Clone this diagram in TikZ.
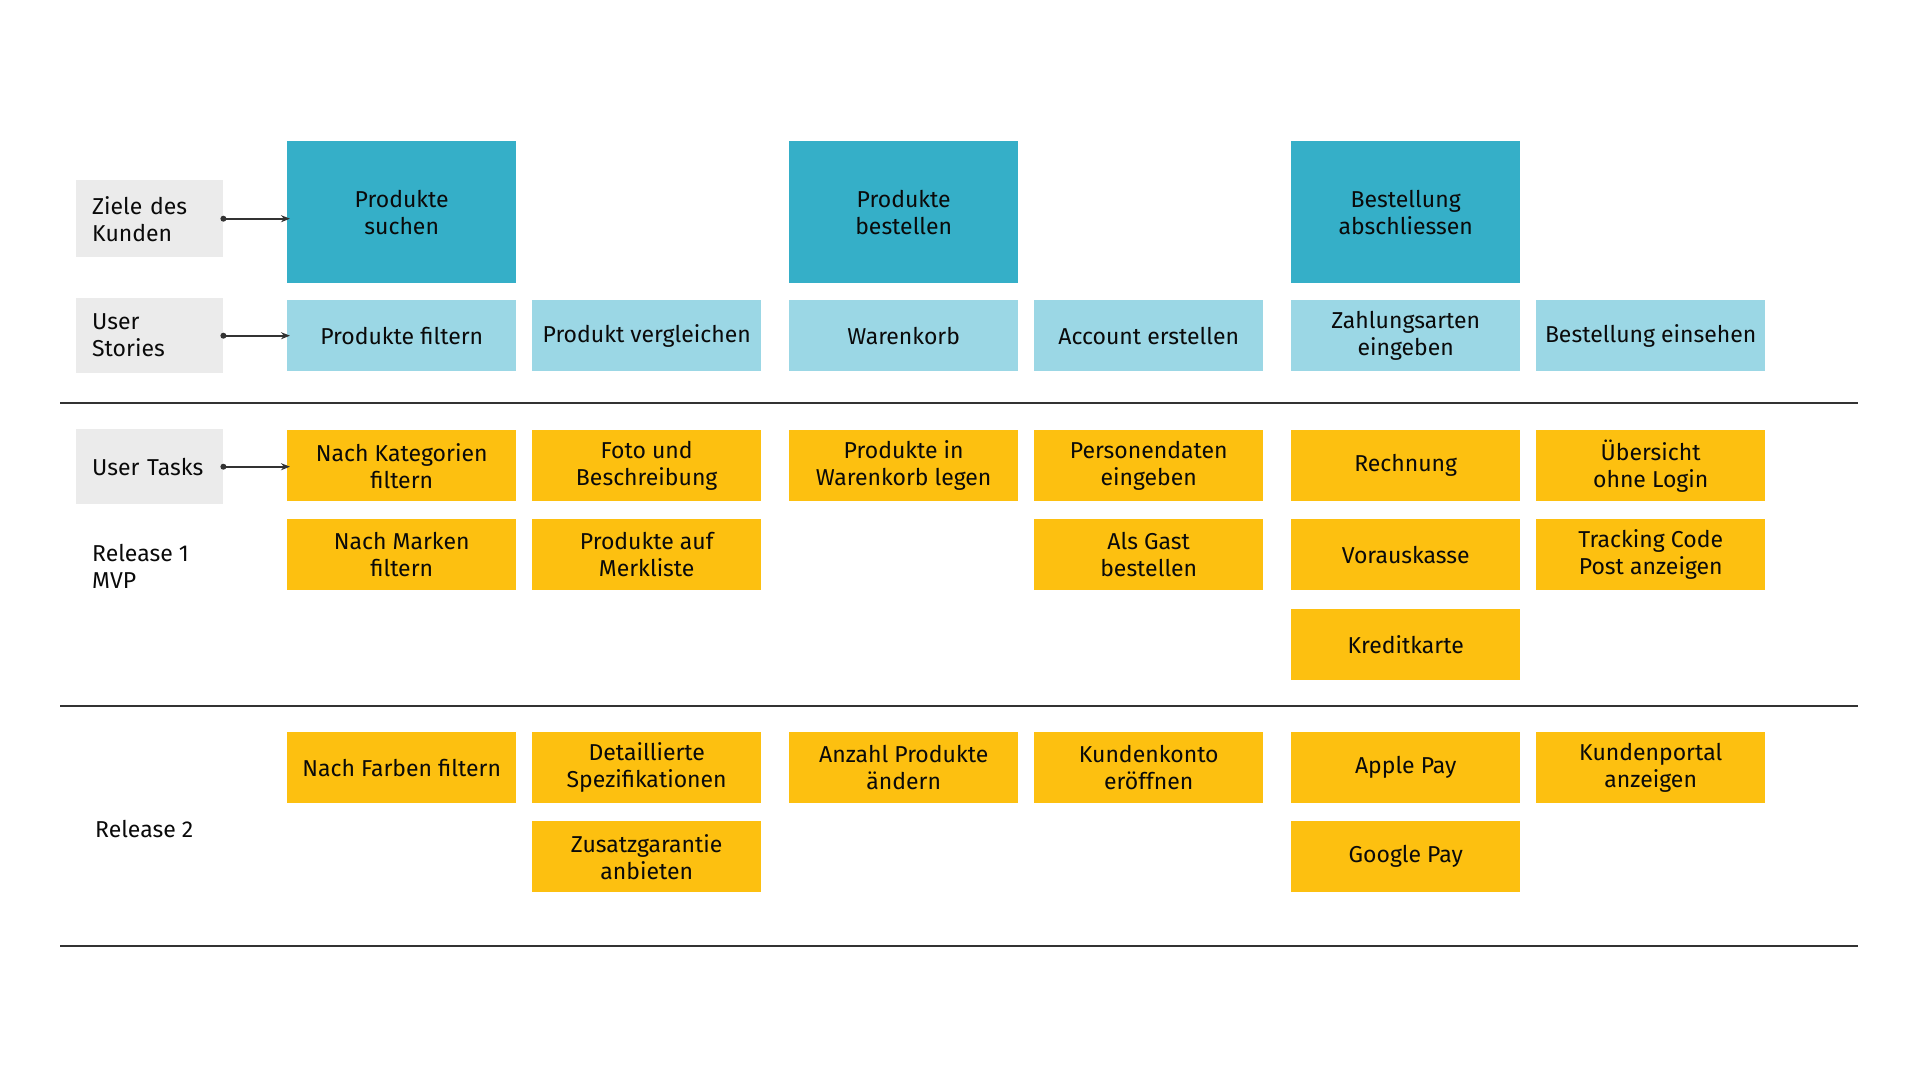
\documentclass[tikz,border=0pt]{standalone}
\usepackage{fontspec}
\setmainfont{Fira Sans}
\usetikzlibrary{arrows.meta}
\definecolor{goalc}{HTML}{35AFC8}
\definecolor{storyc}{HTML}{9BD7E5}
\definecolor{taskc}{HTML}{FDC010}
\definecolor{labc}{HTML}{EBEBEB}
\definecolor{txtc}{HTML}{0A0A0A}
\definecolor{linec}{HTML}{333333}
\tikzset{
  x=1pt, y=-1pt,
  every node/.style={font=\fontsize{23}{27}\selectfont, text=txtc},
  card/.style={anchor=north west, inner sep=0pt, minimum width=229pt, align=center},
  goal/.style={card, fill=goalc, minimum height=142pt},
  story/.style={card, fill=storyc, minimum height=71pt},
  task/.style={card, fill=taskc, minimum height=71pt},
  lab/.style={anchor=north west, fill=labc, inner xsep=16pt, inner ysep=0pt, text width=115pt, align=left},
  plain/.style={anchor=west, inner sep=0pt, align=left},
  sep/.style={draw=linec, line width=1.8pt},
  conn/.style={draw=linec, line width=1.6pt, -{Stealth[length=9pt,width=7pt]}, shorten >=-3pt},
  dot/.style={circle, fill=linec, inner sep=0pt, minimum size=6pt}
}
\begin{document}
\begin{tikzpicture}
\useasboundingbox (0,0) rectangle (1920,1080);
% separators
\coordinate (l1a) at (60,403); \coordinate (l1b) at (1858,403);
\coordinate (l2a) at (60,706); \coordinate (l2b) at (1858,706);
\coordinate (l3a) at (60,946); \coordinate (l3b) at (1858,946);
\draw[sep] (l1a) -- (l1b);
\draw[sep] (l2a) -- (l2b);
\draw[sep] (l3a) -- (l3b);
% row labels
\node[lab, minimum height=77pt] (zk) at (76,180) {Ziele des\\Kunden};
\node[lab, minimum height=75pt] (us) at (76,298) {User\\Stories};
\node[lab, minimum height=75pt] (ut) at (76,429) {User Tasks};
\node[plain] (r1) at (92,566) {Release 1\\MVP};
\node[plain] (r2) at (95,829) {Release 2};
% goals
\node[goal] (g1) at (287,141) {Produkte\\suchen};
\node[goal] (g3) at (789,141) {Produkte\\bestellen};
\node[goal] (g5) at (1291,141) {Bestellung\\abschliessen};
% stories
\node[story] (s1) at (287,300) {Produkte filtern};
\node[story] (s2) at (532,300) {Produkt vergleichen};
\node[story] (s3) at (789,300) {Warenkorb};
\node[story] (s4) at (1034,300) {Account erstellen};
\node[story] (s5) at (1291,300) {Zahlungsarten\\eingeben};
\node[story] (s6) at (1536,300) {Bestellung einsehen};
% release 1 tasks
\node[task] (t11) at (287,430) {Nach Kategorien\\filtern};
\node[task] (t12) at (532,430) {Foto und\\Beschreibung};
\node[task] (t13) at (789,430) {Produkte in\\Warenkorb legen};
\node[task] (t14) at (1034,430) {Personendaten\\eingeben};
\node[task] (t15) at (1291,430) {Rechnung};
\node[task] (t16) at (1536,430) {Übersicht\\ohne Login};
\node[task] (t21) at (287,519) {Nach Marken\\filtern};
\node[task] (t22) at (532,519) {Produkte auf\\Merkliste};
\node[task] (t24) at (1034,519) {Als Gast\\bestellen};
\node[task] (t25) at (1291,519) {Vorauskasse};
\node[task] (t26) at (1536,519) {Tracking Code\\Post anzeigen};
\node[task] (t35) at (1291,609) {Kreditkarte};
% release 2 tasks
\node[task] (u11) at (287,732) {Nach Farben filtern};
\node[task] (u12) at (532,732) {Detaillierte\\Spezifikationen};
\node[task] (u13) at (789,732) {Anzahl Produkte\\ändern};
\node[task] (u14) at (1034,732) {Kundenkonto\\eröffnen};
\node[task] (u15) at (1291,732) {Apple Pay};
\node[task] (u16) at (1536,732) {Kundenportal\\anzeigen};
\node[task] (u22) at (532,821) {Zusatzgarantie\\anbieten};
\node[task] (u25) at (1291,821) {Google Pay};
% connectors
\node[dot] (d1) at (zk.east) {};
\node[dot] (d2) at (us.east) {};
\node[dot] (d3) at (ut.east) {};
\draw[conn] (d1.center) -- (d1.center -| g1.west);
\draw[conn] (d2.center) -- (d2.center -| s1.west);
\draw[conn] (d3.center) -- (d3.center -| t11.west);
\end{tikzpicture}
\end{document}
